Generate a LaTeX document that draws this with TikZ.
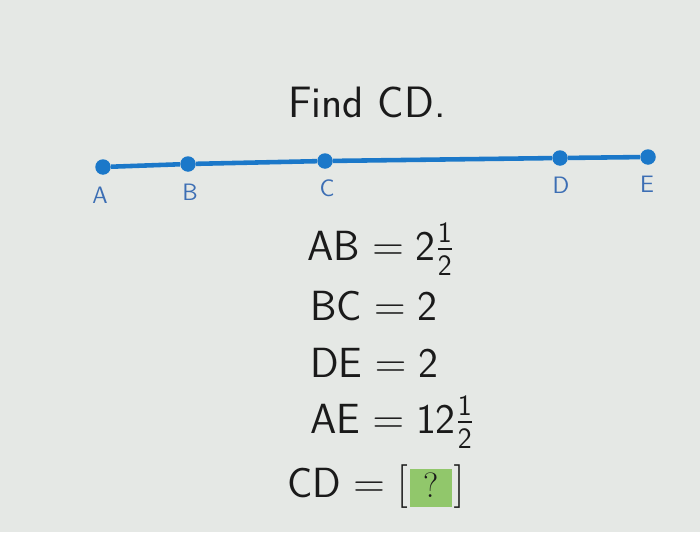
\documentclass[tikz,border=0pt]{standalone}
\usepackage{fontspec}
\usepackage{amsmath}
\usepackage{tikz}
\usetikzlibrary{calc,positioning}
\definecolor{bgray}{RGB}{229,232,229}
\definecolor{segblue}{RGB}{27,120,201}
\definecolor{lblblue}{RGB}{60,110,180}
\definecolor{ink}{RGB}{26,26,26}
\definecolor{qgreen}{RGB}{145,199,107}
\tikzset{
	pt/.style={circle,fill=segblue,inner sep=0pt,minimum size=0.31cm},
	lbl/.style={text=lblblue,font=\sffamily\fontsize{13.5}{16}\selectfont,inner sep=0pt},
	eqn/.style={text=ink,font=\sffamily\fontsize{24}{29}\selectfont,inner sep=0pt,anchor=base west}
}
\begin{document}
\begin{tikzpicture}
	    \fill[bgray] (0,0) rectangle (14,10.64);
	    \useasboundingbox (0,0) rectangle (14,10.64);
	    \node[eqn,font=\sffamily\fontsize{25}{30}\selectfont] (title) at (5.76,8.30) {Find CD.};
	    % points on the segment
	    \node[pt] (a) at (2.06,7.30) {};
	    \node[pt] (b) at (3.76,7.36) {};
	    \node[pt] (c) at (6.50,7.42) {};
	    \node[pt] (d) at (11.20,7.48) {};
	    \node[pt] (e) at (12.96,7.50) {};
	    \draw[segblue,line width=2.6pt] (a)--(b)--(c)--(d)--(e);
	    \node[lbl] (la) at (2.00,6.74) {A};
	    \node[lbl] (lb) at (3.80,6.80) {B};
	    \node[lbl] (lc) at (6.54,6.88) {C};
	    \node[lbl] (ld) at (11.22,6.94) {D};
	    \node[lbl] (le) at (12.94,6.96) {E};
	    % given lengths
	    \node[eqn] (ab) at (6.14,5.44) {$\mathsf{AB}=\mathsf{2}\tfrac{\mathsf{1}}{\mathsf{2}}$};
	    \node[eqn] (bc) at (6.20,4.24) {$\mathsf{BC}=\mathsf{2}$};
	    \node[eqn] (de) at (6.20,3.10) {$\mathsf{DE}=\mathsf{2}$};
	    \node[eqn] (ae) at (6.20,1.98) {$\mathsf{AE}=\mathsf{12}\tfrac{\mathsf{1}}{\mathsf{2}}$};
	    \node[eqn] (cd) at (5.74,0.70) {$\mathsf{CD}=[$\kern1pt{\setlength{\fboxsep}{0pt}\colorbox{qgreen}{\rule[-5.7pt]{0pt}{21.6pt}\makebox[24pt]{\rmfamily\fontsize{20}{24}\selectfont ?}}}\kern1pt$]$};
\end{tikzpicture}
\end{document}
